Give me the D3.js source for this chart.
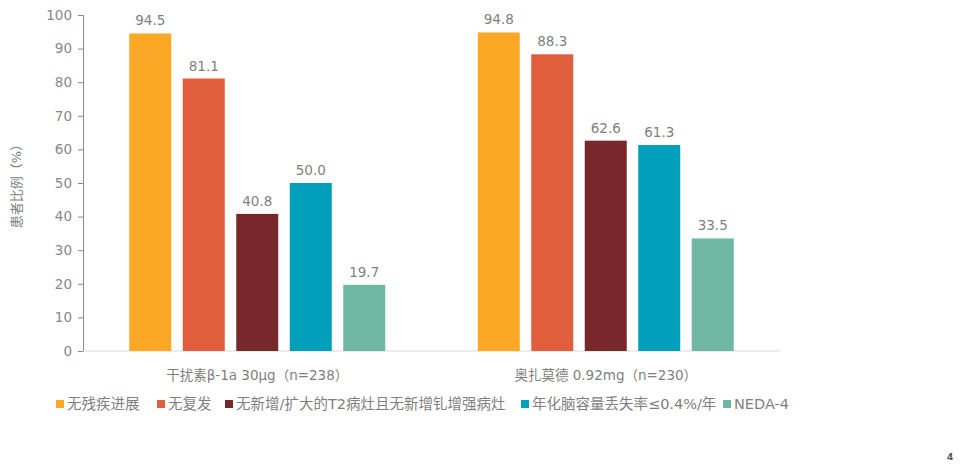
<!DOCTYPE html>
<html><head><meta charset="utf-8">
<script src="https://cdn.jsdelivr.net/npm/d3@7"></script>
<style>
body{margin:0;background:#fff;}
text{font-family:"DejaVu Sans","Noto Sans CJK SC",sans-serif;}
</style></head>
<body><svg id="c" width="960" height="471"></svg>
<script>
const categories = ["干扰素β-1a 30μg（n=238）", "奥扎莫德 0.92mg（n=230）"];
const seriesNames = ["无残疾进展", "无复发", "无新增/扩大的T2病灶且无新增钆增强病灶", "年化脑容量丢失率≤0.4%/年", "NEDA-4"];
const seriesColors = ["#FBA826", "#E05E3B", "#78272A", "#00A0BC", "#70B8A2"];
const values = [
  [94.5, 81.1, 40.8, 50.0, 19.7],
  [94.8, 88.3, 62.6, 61.3, 33.5]
];
const yTicks = [0,10,20,30,40,50,60,70,80,90,100];
const yLabel = "患者比例（%）";
const legendX = [56, 157, 225, 521, 723];

const svg = d3.select("#c");
const m = {left:83, right:180, top:15, bottom:120};
const W = 960, H = 471;
const x0 = d3.scaleBand().domain(categories).range([m.left, W - m.right]).paddingInner(0).paddingOuter(0);
const x1 = d3.scaleBand().domain(seriesNames).range([0, x0.bandwidth()]).paddingInner(0.215).paddingOuter(0.865);
const y = d3.scaleLinear().domain([0,100]).range([H - m.bottom, m.top]);

// axes
const ya = svg.append("g").attr("transform",`translate(${m.left},0)`)
  .call(d3.axisLeft(y).tickValues(yTicks).tickSize(5).tickPadding(6));
ya.selectAll("path,line").attr("stroke","#888");
ya.selectAll("text").attr("fill","#888").style("font-size","13.5px");

svg.append("line").attr("x1",m.left).attr("x2",W-m.right).attr("y1",y(0)).attr("y2",y(0)).attr("stroke","#d9d9d9");

// bars
const g = svg.append("g").selectAll("g").data(categories).join("g")
  .attr("transform", d => `translate(${x0(d)},0)`);
g.each(function(cat, ci){
  const gg = d3.select(this);
  values[ci].forEach((v, si) => {
    gg.append("rect").attr("x", x1(seriesNames[si])).attr("y", y(v))
      .attr("width", x1.bandwidth()).attr("height", y(0)-y(v))
      .attr("fill", seriesColors[si]);
    gg.append("text").attr("x", x1(seriesNames[si]) + x1.bandwidth()/2).attr("y", y(v) - 8)
      .attr("text-anchor","middle").attr("fill","#7f7f7f").style("font-size","13.5px")
      .text(v.toFixed(1));
  });
});

// category labels
svg.append("g").selectAll("text").data(categories).join("text")
  .attr("x", d => x0(d) + x0.bandwidth()/2).attr("y", y(0) + 29)
  .attr("text-anchor","middle").attr("fill","#7f7f7f").style("font-size","13.5px").text(d => d);

// y label
svg.append("text").attr("transform","translate(21,183) rotate(-90)")
  .attr("text-anchor","middle").attr("fill","#7f7f7f").style("font-size","13px").text(yLabel);

// legend
const lg = svg.append("g").attr("transform","translate(0,404)");
seriesNames.forEach((s,i) => {
  lg.append("rect").attr("x", legendX[i]).attr("y", -4).attr("width",8).attr("height",8).attr("fill", seriesColors[i]);
  lg.append("text").attr("x", legendX[i] + 11).attr("y", 5).attr("fill","#7f7f7f").style("font-size","14.5px").text(s);
});

// page number
svg.append("text").attr("x",947).attr("y",460).attr("fill","#555").style("font-size","9px").style("font-weight","bold").text("4");
</script></body></html>
